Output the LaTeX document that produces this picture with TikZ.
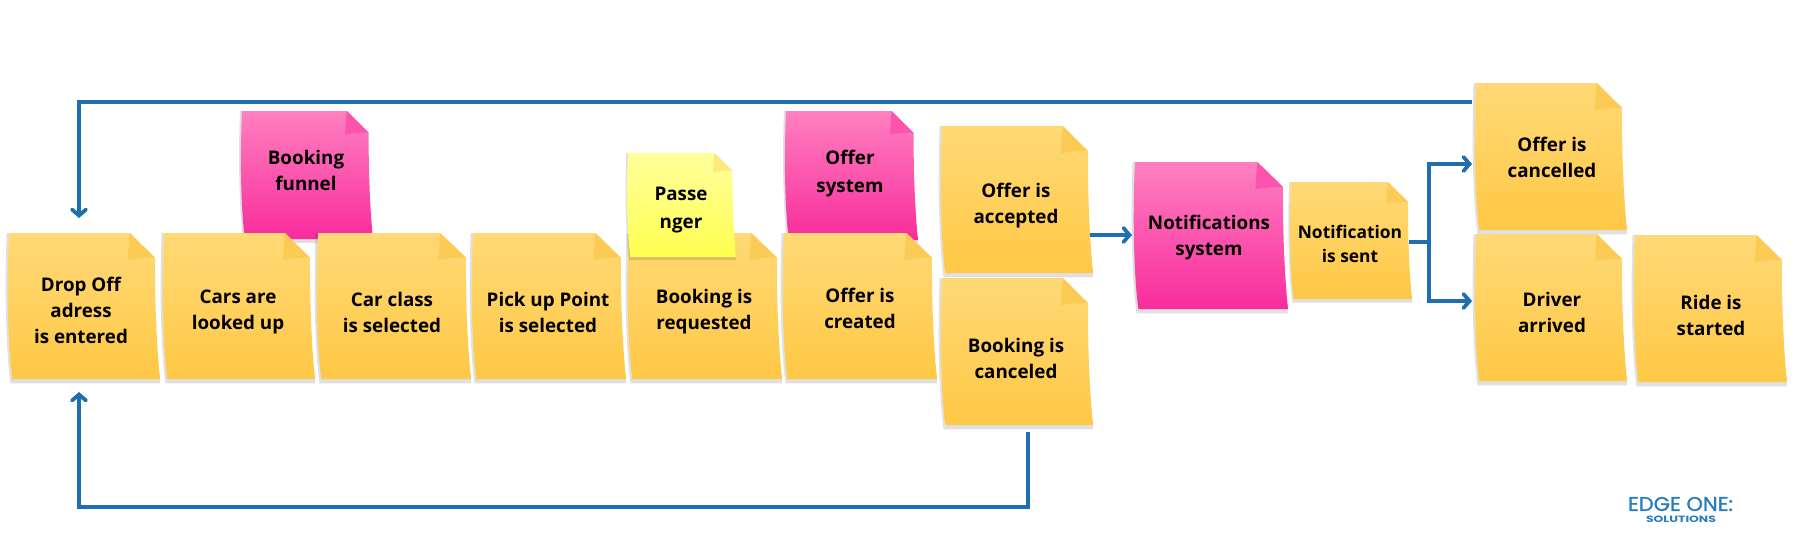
\documentclass[tikz,border=0pt]{standalone}
\usepackage{fontspec}
\usepackage{graphicx}
\setmainfont{Open Sans}
\newfontfamily\logofont[FakeBold=1.2]{Poppins}
\newfontfamily\logosubfont{Poppins}
\usetikzlibrary{arrows.meta,calc}
\definecolor{flowblue}{HTML}{1F6FB0}
\definecolor{logoblue}{HTML}{2A7DBD}
\tikzset{
  orange note/.style={top color=orange top,bottom color=orange bot},
  orange fold/.style={fill=orange fld},
  pink note/.style={top color=pink top,bottom color=pink bot},
  pink fold/.style={fill=pink fld},
  lemon note/.style={top color=lemon top,bottom color=lemon bot},
  lemon fold/.style={fill=lemon fld},
  notebox/.style={draw=none,inner sep=0pt,outer sep=0pt},
  std text/.style={font=\bfseries\fontsize{18.8}{26}\selectfont,align=center,text=black,inner sep=0pt},
  wide text/.style={font=\bfseries\fontsize{18.8}{28}\selectfont,align=center,text=black,inner sep=0pt,yshift=-1pt},
  small text/.style={font=\bfseries\fontsize{17.4}{24}\selectfont,align=center,text=black,inner sep=0pt},
  flow/.style={draw=flowblue,line width=3.8pt},
  flowtip/.style={flow,-{Straight Barb[length=6pt,width=14pt,line cap=round]}},
}
\definecolor{orange top}{HTML}{FFD976}
\definecolor{orange bot}{HTML}{FFC845}
\definecolor{orange fld}{HTML}{FBCB55}
\definecolor{pink top}{HTML}{FF80C0}
\definecolor{pink bot}{HTML}{F82C9C}
\definecolor{pink fld}{HTML}{FB53AE}
\definecolor{lemon top}{HTML}{FFFF9C}
\definecolor{lemon bot}{HTML}{FFFF50}
\definecolor{lemon fld}{HTML}{FFE97C}
% name, x0, y0, x1, y1, colour, text position, text style, text
\newcommand\sticky[9]{%
  \pgfmathsetmacro\noteW{#4-#2}%
  \pgfmathsetmacro\noteH{#5-#3}%
  \begin{scope}[shift={(#2,#3)},x=\noteW pt,y=-\noteH pt]
    \fill[black,opacity=.12] (0,0) -- (-.016,0) .. controls (-.03,.4) and (-.02,.8) .. (.01,1.03) -- (1,1.03) -- (1,.97) -- (.5,.5) -- cycle;
    \shade[#6 note] (0,0) -- (.8,0) -- (.967,.17) .. controls (.965,.5) and (.98,.8) .. (1,1) -- (.022,1) .. controls (-.005,.8) and (-.018,.4) .. (0,0) -- cycle;
    \fill[#6 fold] (.8,0) -- (.967,.17) .. controls (.91,.165) and (.85,.175) .. (.787,.185) .. controls (.79,.12) and (.795,.06) .. (.8,0) -- cycle;
  \end{scope}
  \node[notebox,minimum width=\noteW pt,minimum height=\noteH pt] (#1) at ({(#2+#4)/2},{(#3+#5)/2}) {};
  \node[#8] (#1-t) at (#7) {#9};
}
\begin{document}
\begin{tikzpicture}[x=1pt,y=-1pt]
\useasboundingbox (0,0) rectangle (1800,550);
\sticky{funnel}{242}{111}{373}{239}{pink}{306,170}{std text}{Booking\\funnel}
\sticky{offersys}{786}{111}{918}{240}{pink}{850,173}{wide text}{Offer\\system}
\sticky{drop}{9}{233}{160}{379}{orange}{81,310}{std text}{Drop Off\\adress\\is entered}
\sticky{cars}{164}{233}{315}{379}{orange}{238,312}{std text}{Cars are\\looked up}
\sticky{class}{318}{233}{471}{379}{orange}{392,312}{std text}{Car class\\is selected}
\sticky{pickup}{473}{233}{626}{379}{orange}{548,312}{std text}{Pick up Point\\is selected}
\sticky{requested}{629}{233}{782}{379}{orange}{704,312}{std text}{Booking is\\requested}
\sticky{passenger}{628}{153}{736}{257}{lemon}{681,209}{wide text}{Passe\\nger}
\sticky{created}{784}{233}{937}{379}{orange}{860,308}{std text}{Offer is\\created}
\sticky{accepted}{942}{126}{1093}{273}{orange}{1016,206}{std text}{Offer is\\accepted}
\sticky{canceled}{942}{278}{1093}{425}{orange}{1016,358}{std text}{Booking is\\canceled}
\sticky{notif}{1135}{162}{1288}{309}{pink}{1209,238}{std text}{Notifications\\system}
\sticky{sent}{1291}{182}{1412}{299}{orange}{1350,244}{small text}{Notification\\is sent}
\sticky{cancelled}{1476}{83}{1627}{230}{orange}{1552,157}{std text}{Offer is\\cancelled}
\sticky{driver}{1476}{234}{1627}{381}{orange}{1552,312}{std text}{Driver\\arrived}
\sticky{ride}{1635}{235}{1787}{382}{orange}{1711,315}{std text}{Ride is\\started}
% way points
\coordinate (tl) at (79,102);
\coordinate (bl) at (79,507);
\coordinate (br) at (1028,507);
\coordinate (ma) at (1110,235);
\coordinate (j) at (1429,242);
\coordinate (up) at (1429,164);
\coordinate (dn) at (1429,301);
% connectors
\draw[flowtip,shorten <=4pt,shorten >=15pt,line join=miter] (cancelled.west |- tl) -- (tl) -- (tl |- drop.north);
\draw[flowtip,shorten <=7pt,shorten >=13pt] (canceled.south -| br) -- (br) -- (bl) -- (bl |- drop.south);
\draw[flowtip,shorten <=-3pt,shorten >=3pt] (accepted.east |- ma) -- (notif.west |- ma);
\draw[flow,shorten <=-3pt] (sent.east |- j) -- (j);
\draw[flowtip,shorten >=4pt] (j) -- (up) -- (up -| cancelled.west);
\draw[flowtip,shorten >=4pt] (j) -- (dn) -- (dn -| driver.west);
% logo
\node[inner sep=0pt,text=logoblue] (logo) at (1680.5,504) {\resizebox{105pt}{14pt}{\logofont EDGE ONE:}};
\node[inner sep=0pt,text=logoblue] (logosub) at (1681,519) {\resizebox{70pt}{6.5pt}{\logosubfont\bfseries SOLUTIONS}};
\end{tikzpicture}
\end{document}
